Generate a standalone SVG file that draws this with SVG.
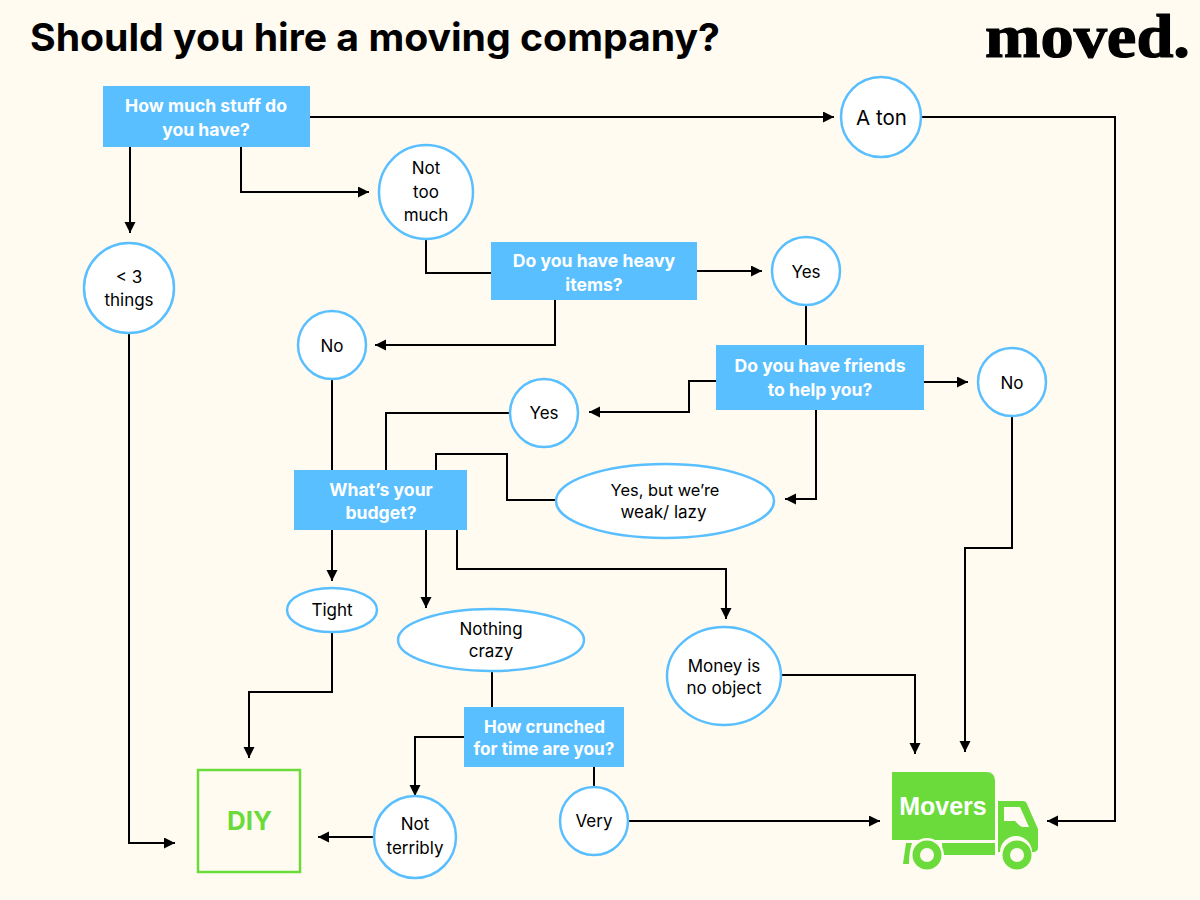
<svg xmlns="http://www.w3.org/2000/svg" width="1200" height="900" viewBox="0 0 1200 900">
<style>
text{font-family:"Inter","Liberation Sans",sans-serif;text-anchor:middle}
.t{font-size:17px;fill:#000;font-weight:400}
.q{font-size:17.6px;fill:#fff;font-weight:700}
.c{fill:#fff;stroke:#5abfff;stroke-width:2.5}
.b{fill:#5abfff}
.l{fill:none;stroke:#000;stroke-width:2}
.a{marker-end:url(#ah)}
</style>
<defs><marker id="ah" markerUnits="userSpaceOnUse" markerWidth="12" markerHeight="12" refX="11" refY="5.5" orient="auto"><path d="M0 0L11 5.5L0 11z" fill="#000"/></marker></defs>
<rect width="1200" height="900" fill="#fffbf0"/>
<text x="30" y="51" style="text-anchor:start;font-size:38px;font-weight:700" textLength="690" lengthAdjust="spacingAndGlyphs">Should you hire a moving company?</text>
<text id="logo" x="985" y="56.500" style="text-anchor:start;font-family:'Liberation Serif',serif;font-size:61px;font-weight:700;stroke:#000;stroke-width:1.2" textLength="205" lengthAdjust="spacingAndGlyphs">moved.</text>
<g id="connectors">
<path class="l a" d="M310 117H834"/>
<path class="l a" d="M922 117H1115V821H1047"/>
<path class="l a" d="M130 147V233"/>
<path class="l a" d="M241 147V192H369"/>
<path class="l" d="M426 238V273H491"/>
<path class="l a" d="M697 271H762"/>
<path class="l a" d="M555 300V345H375"/>
<path class="l" d="M806 305V345"/>
<path class="l a" d="M922 382H968"/>
<path class="l a" d="M716 381H689V412H589"/>
<path class="l a" d="M816 409V499H785"/>
<path class="l" d="M332 379V471"/>
<path class="l" d="M510 413H386V471"/>
<path class="l" d="M556 500H507V454H436V471"/>
<path class="l a" d="M332 530V581"/>
<path class="l a" d="M426 530V608"/>
<path class="l a" d="M457 530V569H726V619"/>
<path class="l a" d="M332 632V692H249V758"/>
<path class="l a" d="M129 333V843H175"/>
<path class="l" d="M492 671V707"/>
<path class="l a" d="M464 737H415V796"/>
<path class="l a" d="M374 837H318"/>
<path class="l" d="M594 767V788"/>
<path class="l a" d="M628 821H880"/>
<path class="l a" d="M780 675H915V754"/>
<path class="l a" d="M1012 416V548H965V752"/>
</g>
<g id="n1"><rect class="b" x="103" y="86" width="207" height="61"/><text class="q" x="206" y="112">How much stuff do</text><text class="q" x="206" y="136">you have?</text></g>
<g id="n2"><circle class="c" cx="881" cy="117" r="40"/><text class="t" x="881.500" y="125" style="font-size:20.5px">A ton</text></g>
<g id="n3"><circle class="c" cx="426" cy="192" r="47"/><text class="t" x="426" y="174">Not</text><text class="t" x="426" y="198">too</text><text class="t" x="426" y="221">much</text></g>
<g id="n4"><circle class="c" cx="129" cy="288" r="45"/><text class="t" x="129" y="283">&lt; 3</text><text class="t" x="129" y="306">things</text></g>
<g id="n5"><rect class="b" x="491" y="242" width="206" height="58"/><text class="q" x="594" y="267">Do you have heavy</text><text class="q" x="594" y="291">items?</text></g>
<g id="n6"><circle class="c" cx="806" cy="271" r="34"/><text class="t" x="806" y="278">Yes</text></g>
<g id="n7"><circle class="c" cx="332" cy="345" r="34"/><text class="t" x="332" y="352">No</text></g>
<g id="n8"><rect class="b" x="716" y="345" width="208" height="65"/><text class="q" x="820" y="372">Do you have friends</text><text class="q" x="820" y="396">to help you?</text></g>
<g id="n9"><circle class="c" cx="1012" cy="382" r="34"/><text class="t" x="1012" y="389">No</text></g>
<g id="n10"><circle class="c" cx="544" cy="413" r="34"/><text class="t" x="544" y="419">Yes</text></g>
<g id="n11"><ellipse class="c" cx="665" cy="501" rx="109" ry="37"/><text class="t" x="665" y="496" style="font-size:16.4px">Yes, but we’re</text><text class="t" x="663.500" y="518">weak/ lazy</text></g>
<g id="n12"><rect class="b" x="294" y="470" width="173" height="60"/><text class="q" x="381" y="496">What’s your</text><text class="q" x="381" y="519">budget?</text></g>
<g id="n13"><ellipse class="c" cx="332" cy="610" rx="45" ry="22"/><text class="t" x="332" y="616">Tight</text></g>
<g id="n14"><ellipse class="c" cx="491" cy="640" rx="93" ry="31"/><text class="t" x="491" y="635">Nothing</text><text class="t" x="491" y="657">crazy</text></g>
<g id="n15"><ellipse class="c" cx="724" cy="676" rx="57" ry="49"/><text class="t" x="724" y="672">Money is</text><text class="t" x="724" y="694">no object</text></g>
<g id="n16"><rect class="b" x="464" y="707" width="160" height="60"/><text class="q" x="544.500" y="733" style="font-size:17px">How crunched</text><text class="q" x="544" y="755" style="font-size:17.2px">for time are you?</text></g>
<g id="n17"><circle class="c" cx="594" cy="821" r="34"/><text class="t" x="594" y="827">Very</text></g>
<g id="n18"><circle class="c" cx="415" cy="837" r="41"/><text class="t" x="415" y="830">Not</text><text class="t" x="415" y="854">terribly</text></g>
<g id="n19"><rect x="198" y="770" width="102" height="102" fill="none" stroke="#6bdb3c" stroke-width="2.500"/><text x="249.500" y="830" style="font-size:26px;font-weight:700;fill:#6bdb3c">DIY</text></g>
<g id="n20" fill="#6bdb3c">
<path d="M892 772H986Q995 772 995 781V840H892z"/>
<path d="M998 801H1023Q1026 801 1027 804L1038 829V848Q1038 851 1034 852H1032A16 16 0 0 0 1000 852H998z"/>
<path d="M1004 807H1020L1029 827H1023Q1021 827 1019 825L1015 821H1004z" fill="#fffbf0"/>
<path d="M942 843H995V855H940Q943 850 942 843z"/>
<path d="M906 843H912Q909 852 909 864H903z"/>
<circle cx="927" cy="855" r="17" fill="#fffbf0"/>
<circle cx="927" cy="855" r="14.500"/><circle cx="927" cy="855" r="7" fill="#fffbf0"/>
<circle cx="1017" cy="855" r="14.500"/><circle cx="1017" cy="855" r="7" fill="#fffbf0"/>
<text x="943" y="815" style="font-family:'Liberation Sans',sans-serif;font-size:25px;font-weight:700;fill:#fff">Movers</text>
</g>
</svg>
